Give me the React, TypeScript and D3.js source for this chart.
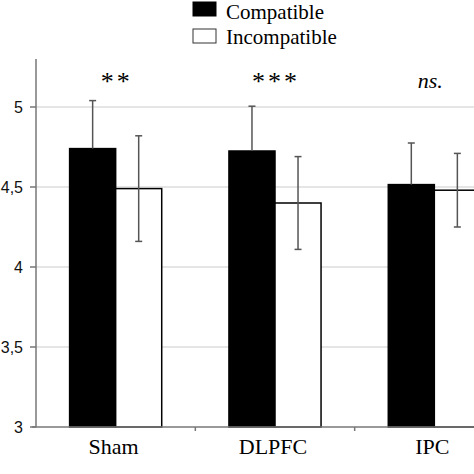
import React from 'react'
import * as d3 from 'd3'

// condition groups and the two trial types
const categories = ['Sham', 'DLPFC', 'IPC']
const series = ['Compatible', 'Incompatible']
const compatibleMeans = [4.74, 4.725, 4.515]
const compatibleErr = [0.3, 0.28, 0.26]
const incompatibleMeans = [4.49, 4.4, 4.48]
const incompatibleErr = [0.33, 0.29, 0.23]
const significance = ['**', '***', 'ns.']
const yTicks = [3, 3.5, 4, 4.5, 5]

const W = 474
const H = 474
const serif = '"Liberation Serif", "Times New Roman", serif'
const sans = '"Liberation Sans", Arial, sans-serif'

export default function App() {
  // plot area: axis at x=36, bottom at y=427, runs off the right edge
  const x = d3.scaleBand().domain(categories).range([36, 514])
  const sub = d3
    .scaleBand()
    .domain(series)
    .range([0, x.bandwidth()])
    .paddingInner(0)
    .paddingOuter(0.73)
  const y = d3.scaleLinear().domain([3, 5.3]).range([427, 59])

  const rows = categories.map((c, i) => [
    { key: series[0], v: compatibleMeans[i], e: compatibleErr[i], fill: '#000' },
    { key: series[1], v: incompatibleMeans[i], e: incompatibleErr[i], fill: '#fff' },
  ])

  const fmt = (d: number) => String(d).replace('.', ',')

  return (
    <svg
      width={W}
      height={H}
      style={{ position: 'absolute', left: 0, top: 0, overflow: 'hidden', background: '#fff' }}
    >
      {/* gridlines */}
      {yTicks.slice(1).map((t) => (
        <line key={t} x1={36} x2={W} y1={y(t)} y2={y(t)} stroke="#dcdcdc" strokeWidth={1.5} />
      ))}

      {/* bars */}
      {categories.map((c, i) => (
        <g key={c} transform={'translate(' + x(c) + ',0)'}>
          {rows[i].map((d) => (
            <rect
              key={d.key}
              x={sub(d.key)}
              y={y(d.v)}
              width={sub.bandwidth()}
              height={y(3) - y(d.v)}
              fill={d.fill}
              stroke="#000"
              strokeWidth={1.5}
            />
          ))}
          {rows[i].map((d) => {
            const cx = (sub(d.key) as number) + sub.bandwidth() / 2
            return (
              <g key={d.key + 'e'} stroke="#555" strokeWidth={1.5}>
                <line x1={cx} x2={cx} y1={y(d.v + d.e)} y2={y(d.v - d.e)} />
                <line x1={cx - 3.5} x2={cx + 3.5} y1={y(d.v + d.e)} y2={y(d.v + d.e)} />
                <line x1={cx - 3.5} x2={cx + 3.5} y1={y(d.v - d.e)} y2={y(d.v - d.e)} />
              </g>
            )
          })}
          {/* black bar hides its own lower whisker */}
          <rect
            x={sub(series[0])}
            y={y(rows[i][0].v)}
            width={sub.bandwidth()}
            height={y(3) - y(rows[i][0].v)}
            fill="#000"
          />
        </g>
      ))}

      {/* y axis */}
      <line x1={36} x2={36} y1={59} y2={427} stroke="#777" strokeWidth={1.5} />
      {yTicks.map((t) => (
        <g key={t}>
          <line x1={30} x2={36} y1={y(t)} y2={y(t)} stroke="#777" strokeWidth={1.5} />
          <text
            x={23}
            y={y(t)}
            dy="0.36em"
            textAnchor="end"
            fontFamily={sans}
            fontSize={16}
            fill="#111"
          >
            {fmt(t)}
          </text>
        </g>
      ))}

      {/* x axis */}
      <line x1={32} x2={W} y1={y(3)} y2={y(3)} stroke="#777" strokeWidth={1.5} />
      {categories.slice(1).map((c) => (
        <line key={c} x1={x(c)} x2={x(c)} y1={y(3)} y2={y(3) + 4} stroke="#777" strokeWidth={1.5} />
      ))}
      {categories.map((c) => (
        <text
          key={c}
          x={(x(c) as number) + x.bandwidth() / 2 - 2}
          y={454}
          textAnchor="middle"
          fontFamily={serif}
          fontSize={22}
          fill="#000"
        >
          {c}
        </text>
      ))}

      {/* significance marks */}
      {categories.map((c, i) => {
        const ns = significance[i] === 'ns.'
        return (
          <text
            key={c + 's'}
            x={(x(c) as number) + x.bandwidth() / 2 + (ns ? -4 : 1)}
            y={ns ? 88 : 90}
            textAnchor="middle"
            fontFamily={serif}
            fontSize={ns ? 22 : 26}
            fontStyle={ns ? 'italic' : 'normal'}
            letterSpacing={ns ? 0 : 3}
            fill="#000"
          >
            {significance[i]}
          </text>
        )
      })}

      {/* legend */}
      <rect x={193} y={2} width={23} height={14} fill="#000" stroke="#000" strokeWidth={1} />
      <rect x={193} y={29} width={23} height={14} fill="#fff" stroke="#333" strokeWidth={1} />
      <text x={226} y={19} fontFamily={serif} fontSize={21} fill="#000">
        {series[0]}
      </text>
      <text x={226} y={44} fontFamily={serif} fontSize={21} fill="#000">
        {series[1]}
      </text>
    </svg>
  )
}
